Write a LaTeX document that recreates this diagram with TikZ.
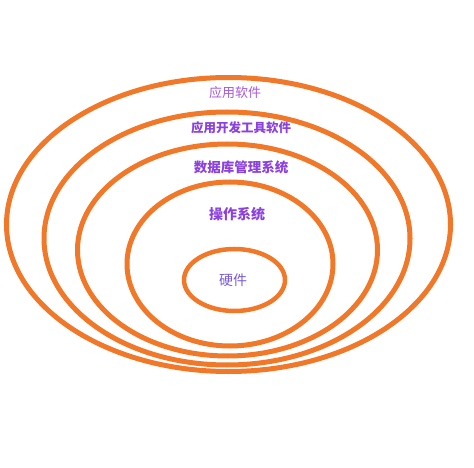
\documentclass[tikz,border=0pt]{standalone}
\usepackage{fontspec}
\newfontfamily\cjk{Noto Sans CJK SC}
\usepackage{tikz}
\definecolor{ring}{RGB}{240, 120, 40}
\definecolor{lab}{RGB}{140, 64, 222}
\definecolor{labl}{RGB}{165, 90, 220}
\definecolor{labh}{RGB}{120, 90, 215}
\usetikzlibrary{shapes.geometric}
\usetikzlibrary{positioning}

\begin{document}
\begin{tikzpicture}
[every node/.style={inner sep=0pt}]
\useasboundingbox (0pt, 0pt) rectangle (474pt, -468pt);
\node (app) [ellipse, minimum width=444pt, minimum height=294pt, line width=5pt, draw=ring] at (228.5pt, -224.5pt)  {};
\node (dev) [ellipse, minimum width=366pt, minimum height=253pt, line width=5pt, draw=ring] at (227.0pt, -238.5pt)  {};
\node (dbms) [ellipse, minimum width=300pt, minimum height=212pt, line width=5pt, draw=ring] at (227.5pt, -250.0pt)  {};
\node (os) [ellipse, minimum width=206pt, minimum height=164pt, line width=5pt, draw=ring] at (230.0pt, -264.0pt)  {};
\node (hw) [ellipse, minimum width=101pt, minimum height=62pt, line width=4.5pt, draw=ring] at (234.5pt, -280.0pt)  {};
\node (tapp) [text=labl, font=\cjk\fontsize{13pt}{15pt}\selectfont] at (235.0pt, -93.0pt)  {应用软件};
\node (tdev) [text=lab, font=\cjk\bfseries\fontsize{12.5pt}{14pt}\selectfont] at (241.0pt, -128.0pt)  {应用开发工具软件};
\node (tdbms) [text=lab, font=\cjk\bfseries\fontsize{13.5pt}{15pt}\selectfont] at (241.0pt, -167.0pt)  {数据库管理系统};
\node (tos) [text=lab, font=\cjk\bfseries\fontsize{14pt}{16pt}\selectfont] at (237.0pt, -214.0pt)  {操作系统};
\node (thw) [text=labh, font=\cjk\fontsize{14pt}{16pt}\selectfont] at (233.0pt, -280.0pt)  {硬件};
\end{tikzpicture}
\end{document}
